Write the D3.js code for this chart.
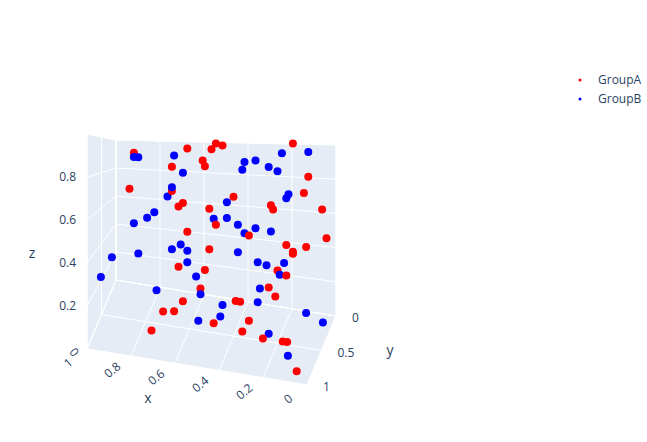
<!DOCTYPE html>
<html><head><meta charset="utf-8">
<script src="https://cdn.jsdelivr.net/npm/d3@7"></script>
<style>body{margin:0;background:#fff}text{font-family:"Open Sans",Arial,sans-serif;fill:#2a3f5f}</style>
</head><body>
<svg id="c" width="647" height="442"></svg>
<script>
// data: [x, y, z]
const groupA = [
[0.80,0.9,0.92],[0.61,0.5,0.95],[0.68,0.5,0.85],[0.54,0.5,0.89],[0.53,0.5,0.86],[0.82,0.9,0.75],
[0.68,0.5,0.72],[0.65,0.5,0.64],[0.63,0.5,0.66],[0.51,0.5,0.64],[0.61,0.5,0.51],[0.51,0.5,0.43],
[0.65,0.5,0.32],[0.48,0.5,0.98],[0.45,0.5,0.97],[0.50,0.5,0.95],[0.13,0.5,0.99],[0.06,0.5,0.83],
[0.08,0.5,0.75],[0.40,0.5,0.71],[0.23,0.5,0.68],[0.22,0.5,0.66],[0.05,0.1,0.63],[0.48,0.5,0.56],
[0.33,0.5,0.52],[0.03,0.1,0.47],[0.16,0.5,0.49],[0.07,0.5,0.49],[0.13,0.5,0.46],[0.13,0.5,0.45],
[0.20,0.5,0.36],[0.53,0.5,0.32],[0.16,0.5,0.34],[0.55,0.5,0.22],[0.24,0.5,0.27],[0.63,0.5,0.14],
[0.21,0.5,0.23],[0.72,0.5,0.07],[0.67,0.5,0.08],[0.39,0.5,0.18],[0.37,0.5,0.18],[0.49,0.5,0.05],
[0.33,0.5,0.09],[0.36,0.5,0.03],[0.72,0.9,0.10],[0.24,0.7,0.08],[0.15,0.7,0.08],[0.13,0.7,0.08],
[0.06,0.9,0.02]];
const groupB = [
[0.80,0.9,0.90],[0.78,0.9,0.90],[0.67,0.5,0.91],[0.63,0.5,0.82],[0.68,0.5,0.74],[0.70,0.5,0.69],
[0.76,0.5,0.60],[0.74,0.9,0.62],[0.80,0.9,0.59],[0.64,0.5,0.44],[0.68,0.5,0.41],[0.61,0.5,0.41],
[0.90,0.9,0.42],[0.78,0.9,0.45],[0.61,0.5,0.35],[0.18,0.5,0.94],[0.06,0.5,0.95],[0.35,0.5,0.89],
[0.36,0.5,0.85],[0.30,0.5,0.90],[0.24,0.5,0.87],[0.20,0.5,0.85],[0.15,0.5,0.74],[0.16,0.5,0.72],
[0.43,0.5,0.68],[0.49,0.5,0.59],[0.43,0.5,0.60],[0.38,0.5,0.57],[0.30,0.5,0.56],[0.35,0.5,0.53],
[0.23,0.5,0.55],[0.38,0.5,0.43],[0.29,0.5,0.39],[0.25,0.5,0.38],[0.17,0.5,0.40],[0.19,0.5,0.34],
[0.95,0.9,0.32],[0.57,0.5,0.28],[0.75,0.5,0.18],[0.55,0.5,0.19],[0.28,0.5,0.26],[0.29,0.5,0.19],
[0.45,0.5,0.15],[0.46,0.5,0.09],[0.56,0.5,0.05],[0.07,0.5,0.17],[0.02,0.3,0.07],[0.24,0.5,0.04],
[0.10,0.9,0.08]];
const xTicks = [0,0.2,0.4,0.6,0.8,1];
const yTicks = [0,0.5,1];
const zTicks = [0,0.2,0.4,0.6,0.8];
const zTickLabels = ["0","0.2","0.4","0.6","0.8"];
const series = [{name:"GroupA",color:"#ff0000",data:groupA},{name:"GroupB",color:"#0000ff",data:groupB}];

const svg = d3.select("#c");
// projection: linear scales along box edges + simple height perspective
const sxX = d3.scaleLinear().domain([0,1]).range([0,-220]);
const syX = d3.scaleLinear().domain([0,1]).range([0,-36]);
const sxY = d3.scaleLinear().domain([0,1]).range([0,-29]);
const syY = d3.scaleLinear().domain([0,1]).range([0,69]);
const zS = d3.scaleLinear().domain([0,1]).range([0,1]);
const O = [336,316];
function P(x,y,z){
  const h = 171 - 31*x + 75*y;
  return [O[0]+sxX(x)+sxY(y), O[1]+syX(x)+syY(y) - zS(z)*h];
}
const line = d3.line();
const paneFill="#e5ecf6";
// panes
const panes = [
  [[0,0,0],[1,0,0],[1,1,0],[0,1,0]],
  [[1,0,0],[1,1,0],[1,1,1],[1,0,1]],
  [[0,0,0],[1,0,0],[1,0,1],[0,0,1]]
];
panes.forEach(p=>svg.append("path").attr("d",line(p.map(q=>P(...q)))+"Z").attr("fill",paneFill).attr("stroke","#fff").attr("stroke-width",1));
const g = svg.append("g").attr("stroke","#fff").attr("stroke-width",1).attr("fill","none");
function seg(a,b){g.append("path").attr("d",line([P(...a),P(...b)]));}
xTicks.forEach(t=>{ seg([t,0,0],[t,1,0]); seg([t,0,0],[t,0,1]); });
yTicks.forEach(t=>{ seg([0,t,0],[1,t,0]); seg([1,t,0],[1,t,1]); });
zTicks.concat([1]).forEach(t=>{ seg([1,1,t],[1,0,t]); seg([1,0,t],[0,0,t]); });

// points sorted by depth
const pts=[];
series.forEach(s=>s.data.forEach(d=>pts.push({c:s.color,d})));
pts.sort((a,b)=>(a.d[1]-a.d[0])-(b.d[1]-b.d[0]));
svg.append("g").selectAll("circle").data(pts).join("circle")
 .attr("cx",p=>P(...p.d)[0]).attr("cy",p=>P(...p.d)[1]).attr("r",4).attr("fill",p=>p.c);

// tick labels
xTicks.forEach(t=>{const q=P(t,1,0);
  svg.append("text").attr("transform",`translate(${q[0]-16},${q[1]+17}) rotate(-40)`).attr("text-anchor","middle").attr("font-size",12).text(d3.format("~g")(t));});
svg.append("text").attr("x",148).attr("y",403).attr("font-size",14).attr("text-anchor","middle").text("x");
yTicks.forEach(t=>{const q=P(0,t,0);
  svg.append("text").attr("x",q[0]+16).attr("y",q[1]+6).attr("font-size",12).text(d3.format("~g")(t));});
svg.append("text").attr("x",390).attr("y",355).attr("font-size",14).attr("text-anchor","middle").text("y");
zTicks.forEach((t,i)=>{const q=P(1,1,t);
  if(i===0){svg.append("text").attr("transform",`translate(${q[0]-16},${q[1]+6}) rotate(50)`).attr("text-anchor","middle").attr("font-size",12).text(zTickLabels[i]);}
  else svg.append("text").attr("x",q[0]-11).attr("y",q[1]+4).attr("text-anchor","end").attr("font-size",12).text(zTickLabels[i]);});
svg.append("text").attr("x",32).attr("y",258).attr("font-size",14).attr("text-anchor","middle").text("z");

// legend
series.forEach((s,i)=>{
  svg.append("circle").attr("cx",580).attr("cy",80+i*19).attr("r",1.5).attr("fill",s.color);
  svg.append("text").attr("x",598).attr("y",84+i*19).attr("font-size",12).text(s.name);
});
</script></body></html>
